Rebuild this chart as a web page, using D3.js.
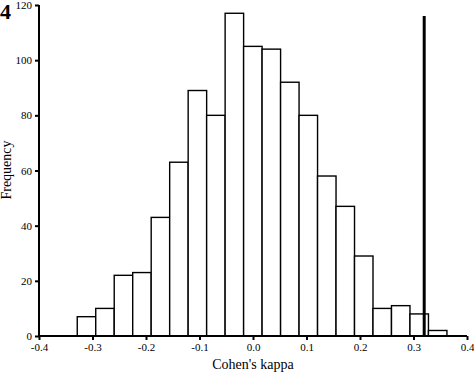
<html>
<head>
<script src="https://d3js.org/d3.v7.min.js"></script>
<style>
  body { margin: 0; background: #fff; }
  text { font-family: "Liberation Serif", "DejaVu Serif", serif; fill: #000; }
</style>
</head>
<body>
<svg width="474" height="374"></svg>
<script>
// histogram counts, 20 bins
const counts = [7, 10, 22, 23, 43, 63, 89, 80, 117, 105, 104, 92, 80, 58, 47, 29, 10, 11, 8, 2];
const binStart = -0.3285;
const binWidth = 0.03455;
const observed = 0.32;
const observedTop = 116;
const xTicks = [-0.4, -0.3, -0.2, -0.1, 0.0, 0.1, 0.2, 0.3, 0.4];
const yTicks = [0, 20, 40, 60, 80, 100, 120];

const bins = counts.map((c, i) => ({x0: binStart + i * binWidth, x1: binStart + (i + 1) * binWidth, n: c}));

const svg = d3.select("svg");

var x = d3.scaleLinear().domain([-0.4, 0.4]).range([39, 467]);
var y = d3.scaleLinear().domain([0, 120]).range([336, 5]);

svg.selectAll("rect.bar")
  .data(bins)
  .enter()
  .append("rect")
    .attr("class", "bar")
    .attr("x", d => x(d.x0))
    .attr("y", d => y(d.n))
    .attr("width", d => x(d.x1) - x(d.x0))
    .attr("height", d => y(0) - y(d.n))
    .style("fill", "white")
    .style("stroke", "black")
    .style("stroke-width", 1.4);

// observed value line
svg.append("line")
  .attr("x1", x(observed)).attr("x2", x(observed))
  .attr("y1", y(observedTop)).attr("y2", y(0))
  .style("stroke", "black")
  .style("stroke-width", 3);

var xAx = d3.axisBottom(x).tickValues(xTicks).tickFormat(d => d3.format(".1f")(d).replace("−", "-")).tickSize(4).tickPadding(3);
var yAx = d3.axisLeft(y).tickValues(yTicks).tickSize(4).tickPadding(3);

var gx = svg.append("g").attr("transform", "translate(0," + y(0) + ")").call(xAx);
var gy = svg.append("g").attr("transform", "translate(" + x(-0.4) + ",0)").call(yAx);

[gx, gy].forEach(g => {
  g.attr("font-family", "Liberation Serif").attr("font-size", 11);
  g.select(".domain").style("stroke-width", 2);
  g.selectAll(".tick line").style("stroke-width", 2);
});
gx.select(".domain").attr("d", "M" + x(-0.4) + ",0H" + x(0.4));
gy.select(".domain").attr("d", "M0," + y(0) + "V" + y(120));

svg.append("text")
  .attr("x", 253)
  .attr("y", 369)
  .attr("text-anchor", "middle")
  .style("font-size", "14px")
  .text("Cohen's kappa");

svg.append("text")
  .attr("transform", "rotate(-90)")
  .attr("x", -170)
  .attr("y", 11)
  .attr("text-anchor", "middle")
  .style("font-size", "14px")
  .text("Frequency");

svg.append("text")
  .attr("x", 0)
  .attr("y", 19)
  .style("font-size", "22px")
  .style("font-weight", "bold")
  .text("4");
</script>
</body>
</html>
